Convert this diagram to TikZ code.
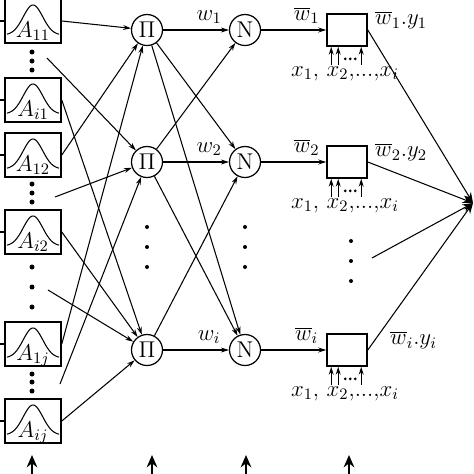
\RequirePackage{fix-cm}
\documentclass[tikz,border=0pt]{standalone}
\usepackage{tikz}
\usetikzlibrary{calc,arrows.meta}
\def\bell(#1){\draw[line width=0.6pt, shift={(#1)}] plot[domain=-26:26, samples=41, smooth] (\x, {14-30*exp(-(\x*\x)/190)});}

\begin{document}
\begin{tikzpicture}[x=0.02cm, y=-0.02cm, line width=0.6pt,
		font=\fontsize{13}{15}\selectfont,
		>={Stealth[length=4.5pt, width=2.8pt]},
		mf/.style={draw, line width=0.9pt, minimum width=1.12cm, minimum height=0.88cm, inner sep=0pt, text height=0.72cm, text depth=0.08cm},
		opnode/.style={draw, circle, line width=0.7pt, minimum size=0.62cm, inner sep=0pt},
		rulebox/.style={draw, line width=0.9pt, minimum width=0.8cm, minimum height=0.64cm},
		bigarrow/.style={<-, line width=1.4pt, >={Stealth[length=7pt, width=6pt]}}]
		%%%%% START %%%%%
		\useasboundingbox (0,0) rectangle (474,474);
		
		% membership boxes
		\node[mf] (A11) at (33,21) {$A_{11}$};
		\node[mf] (Ai1) at (33,100) {$A_{i1}$};
		\node[mf] (A12) at (33,155) {$A_{12}$};
		\node[mf] (Ai2) at (33,232) {$A_{i2}$};
		\node[mf] (A1j) at (33,344) {$A_{1j}$};
		\node[mf] (Aij) at (33,421) {$A_{ij}$};
		\bell(A11) \bell(Ai1) \bell(A12) \bell(Ai2) \bell(A1j) \bell(Aij)
		
		\draw (A11.west) -- ++(-6,0);
		\draw (Ai1.west) -- ++(-6,0);
		\draw (A12.west) -- ++(-6,0);
		\draw (Ai2.west) -- ++(-6,0);
		\draw (A1j.west) -- ++(-6,0);
		\draw (Aij.west) -- ++(-6,0);
		
		\fill (32,52) circle (2.5); \fill (32,61) circle (2.5); \fill (32,70) circle (2.5);
		\fill (32,184) circle (2.5); \fill (32,193) circle (2.5); \fill (32,202) circle (2.5);
		\fill (32,267) circle (2.5); \fill (32,287) circle (2.5); \fill (32,307) circle (2.5);
		\fill (32,374) circle (2.5); \fill (32,382) circle (2.5); \fill (32,391) circle (2.5);
		
		% product and normalisation layers
		\node[opnode] (P1) at (147,30) {$\Pi$};
		\node[opnode] (P2) at (147,162) {$\Pi$};
		\node[opnode] (Pi) at (147,350) {$\Pi$};
		\node[opnode] (N1) at (245,30) {N};
		\node[opnode] (N2) at (245,162) {N};
		\node[opnode] (Ni) at (245,350) {N};
		
		\fill (147,227) circle (2); \fill (147,247) circle (2); \fill (147,267) circle (2);
		\fill (245,227) circle (2); \fill (245,247) circle (2); \fill (245,267) circle (2);
		
		\coordinate (d1) at (47,58);
		\coordinate (d2) at (55,197);
		\coordinate (d3) at (48,290);
		\coordinate (d4) at (60,384);
		
		\draw[->] (A11.east) -- (P1);
		\draw[->] (A12.east) -- (P1);
		\draw[->] (A1j.east) -- (P1);
		\draw[->] (d1) -- (P2);
		\draw[->] (d2) -- (P2);
		\draw[->] (d4) -- (P2);
		\draw[->] (Ai1.east) -- (Pi);
		\draw[->] (Ai2.east) -- (Pi);
		\draw[->] (d3) -- (Pi);
		\draw[->] (Aij.east) -- (Pi);
		
		\draw[->] (P1) -- node[pos=0.7, above] {$w_1$} (N1);
		\draw[->] (P1) -- (N2);
		\draw[->] (P1) -- (Ni);
		\draw[->] (P2) -- (N1);
		\draw[->] (P2) -- node[pos=0.7, above] {$w_2$} (N2);
		\draw[->] (P2) -- (Ni);
		\draw[->] (Pi) -- (N2);
		\draw[->] (Pi) -- node[pos=0.7, above] {$w_i$} (Ni);
		
		% rule consequents
		\node[rulebox] (R1) at (347,30) {};
		\node[rulebox] (R2) at (347,162) {};
		\node[rulebox] (Ri) at (347,350) {};
		
		\draw[->] (N1) -- node[pos=0.7, above] {$\overline{w}_1$} (R1);
		\draw[->] (N2) -- node[pos=0.7, above] {$\overline{w}_2$} (R2);
		\draw[->] (Ni) -- node[pos=0.7, above] {$\overline{w}_i$} (Ri);
		
		\node[anchor=west] (Y1) at ([shift={(1,7)}]R1.north east) {$\overline{w}_1.y_1$};
		\node[anchor=west] (Y2) at ([shift={(1,7)}]R2.north east) {$\overline{w}_2.y_2$};
		\node[anchor=west] (Yi) at ([shift={(16,7)}]Ri.north east) {$\overline{w}_i.y_i$};
		
		\draw[->] ([shift={(5,18)}]R1.south west) -- ([shift={(5,0)}]R1.south west);
		\draw[->] ([shift={(12,18)}]R1.south west) -- ([shift={(12,0)}]R1.south west);
		\draw[->] ([shift={(35,18)}]R1.south west) -- ([shift={(35,0)}]R1.south west);
		\draw[->] ([shift={(5,18)}]R2.south west) -- ([shift={(5,0)}]R2.south west);
		\draw[->] ([shift={(12,18)}]R2.south west) -- ([shift={(12,0)}]R2.south west);
		\draw[->] ([shift={(35,18)}]R2.south west) -- ([shift={(35,0)}]R2.south west);
		\draw[->] ([shift={(5,18)}]Ri.south west) -- ([shift={(5,0)}]Ri.south west);
		\draw[->] ([shift={(12,18)}]Ri.south west) -- ([shift={(12,0)}]Ri.south west);
		\draw[->] ([shift={(35,18)}]Ri.south west) -- ([shift={(35,0)}]Ri.south west);
		\fill ([shift={(19,12)}]R1.south west) circle (1.5); \fill ([shift={(24,12)}]R1.south west) circle (1.5); \fill ([shift={(29,12)}]R1.south west) circle (1.5);
		\fill ([shift={(19,12)}]R2.south west) circle (1.5); \fill ([shift={(24,12)}]R2.south west) circle (1.5); \fill ([shift={(29,12)}]R2.south west) circle (1.5);
		\fill ([shift={(19,12)}]Ri.south west) circle (1.5); \fill ([shift={(24,12)}]Ri.south west) circle (1.5); \fill ([shift={(29,12)}]Ri.south west) circle (1.5);
		
		\node (X1) at ([shift={(-2,27)}]R1.south) {$x_1,\,x_2{,}{.}{.}{.}{,}x_i$};
		\node (X2) at ([shift={(-2,27)}]R2.south) {$x_1,\,x_2{,}{.}{.}{.}{,}x_i$};
		\node (Xi) at ([shift={(-2,27)}]Ri.south) {$x_1,\,x_2{,}{.}{.}{.}{,}x_i$};
		
		\fill (351,241) circle (2); \fill (351,261) circle (2); \fill (351,281) circle (2);
		
		% output
		\coordinate (out) at (473,203);
		\coordinate (d5) at (372,258);
		\draw[->, >={Stealth[length=6pt, width=4.5pt]}] (R1.east) -- (out);
		\draw[->, >={Stealth[length=6pt, width=4.5pt]}] (R2.east) -- (out);
		\draw[->, >={Stealth[length=6pt, width=4.5pt]}] (d5) -- (out);
		\draw[->, >={Stealth[length=6pt, width=4.5pt]}] (Ri.east) -- (out);
		
		% layer arrows at the bottom
		\coordinate (in1) at (32,455);
		\coordinate (in2) at (152,455);
		\coordinate (in3) at (246,455);
		\coordinate (in4) at (349,455);
		\draw[bigarrow] (in1) -- ++(0,22);
		\draw[bigarrow] (in2) -- ++(0,22);
		\draw[bigarrow] (in3) -- ++(0,22);
		\draw[bigarrow] (in4) -- ++(0,22);
		
		%%%%% END %%%%%
\end{tikzpicture}
\end{document}
